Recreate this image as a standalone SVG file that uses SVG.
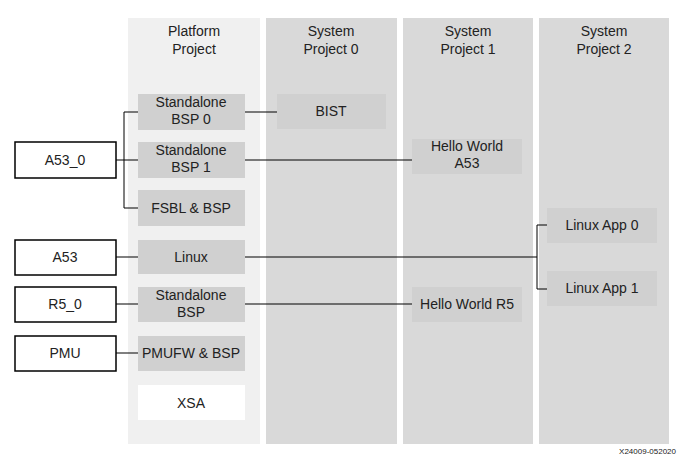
<svg xmlns="http://www.w3.org/2000/svg" width="681" height="464" viewBox="0 0 681 464">
<style>
text{font-family:"Liberation Sans",Arial,sans-serif;font-size:14px;fill:#222;text-anchor:middle}
.col{fill:#d9d9d9}
.n{fill:#d0d0d0}
.b{fill:#fff;stroke:#000;stroke-width:1.5}
.c{stroke:#000;stroke-width:1;fill:none}
</style>
<rect width="681" height="464" fill="#fff"/>
<g id="columns">
<rect x="128" y="18" width="132" height="426" fill="#f0f0f0"/>
<rect class="col" x="266" y="18" width="131" height="426"/>
<rect class="col" x="403" y="18" width="130" height="426"/>
<rect class="col" x="539" y="18" width="130" height="426"/>
<text x="194" y="36">Platform</text><text x="194" y="54">Project</text>
<text x="331" y="36">System</text><text x="331" y="54">Project 0</text>
<text x="468" y="36">System</text><text x="468" y="54">Project 1</text>
<text x="604" y="36">System</text><text x="604" y="54">Project 2</text>
</g>
<g id="connectors">
<path class="c" d="M116 160H124M124 112V208M124 112H138M124 160H138M124 208H138"/>
<path class="c" d="M116 257H138M116 304H138M116 353H138"/>
<path class="c" d="M245 112H277M245 160H412M245 257H537M537 225V289M537 225H547M537 289H547M245 304H412"/>
</g>
<g id="bsp0"><rect class="n" x="138" y="94" width="107" height="36"/><text x="191" y="107">Standalone</text><text x="191" y="124">BSP 0</text></g>
<g id="bsp1"><rect class="n" x="138" y="142" width="107" height="36"/><text x="191" y="155">Standalone</text><text x="191" y="172">BSP 1</text></g>
<g id="fsbl"><rect class="n" x="138" y="190" width="107" height="36"/><text x="191" y="213">FSBL &amp; BSP</text></g>
<g id="linux"><rect class="n" x="138" y="240" width="107" height="34"/><text x="191" y="262">Linux</text></g>
<g id="bspr5"><rect class="n" x="138" y="287" width="107" height="35"/><text x="191" y="300">Standalone</text><text x="191" y="317">BSP</text></g>
<g id="pmufw"><rect class="n" x="138" y="336" width="107" height="35"/><text x="191" y="358">PMUFW &amp; BSP</text></g>
<g id="xsa"><rect fill="#fff" x="138" y="385" width="107" height="35"/><text x="191" y="408">XSA</text></g>
<g id="a53_0"><rect class="b" x="15" y="142" width="101" height="36"/><text x="65" y="165">A53_0</text></g>
<g id="a53"><rect class="b" x="15" y="240" width="101" height="35"/><text x="65" y="262">A53</text></g>
<g id="r5_0"><rect class="b" x="15" y="287" width="101" height="35"/><text x="65" y="309">R5_0</text></g>
<g id="pmu"><rect class="b" x="15" y="336" width="101" height="35"/><text x="65" y="358">PMU</text></g>
<g id="bist"><rect class="n" x="277" y="94" width="109" height="35"/><text x="331" y="116">BIST</text></g>
<g id="hwa53"><rect class="n" x="412" y="139" width="110" height="35"/><text x="467" y="151">Hello World</text><text x="467" y="168">A53</text></g>
<g id="hwr5"><rect class="n" x="412" y="287" width="110" height="35"/><text x="467" y="309">Hello World R5</text></g>
<g id="app0"><rect class="n" x="547" y="208" width="110" height="35"/><text x="602" y="230">Linux App 0</text></g>
<g id="app1"><rect class="n" x="547" y="271" width="110" height="35"/><text x="602" y="293">Linux App 1</text></g>
<text x="676" y="454" style="font-size:8px;text-anchor:end">X24009-052020</text>
</svg>
